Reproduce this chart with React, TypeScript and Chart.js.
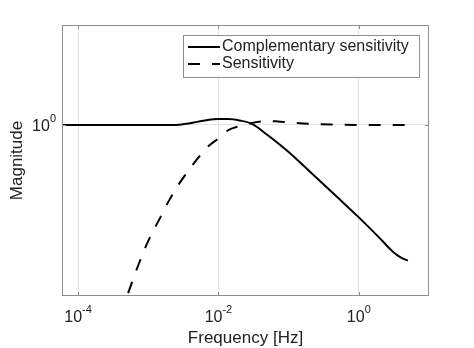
import React, { useEffect, useRef } from 'react';
import { Chart, registerables } from 'chart.js';

Chart.register(...registerables);

// ---- data ----
const complementaryFreq = [5e-5, 1e-4, 3e-4, 1e-3, 2e-3, 3e-3, 5e-3, 7e-3, 1e-2, 1.4e-2, 2e-2, 3e-2, 5e-2, 7e-2, 0.1, 0.2, 0.5, 1, 2, 3, 4, 5];
const complementaryMag = [1, 1, 1, 1, 1.0, 1.005, 1.029, 1.048, 1.058, 1.058, 1.043, 1.01, 0.91, 0.844, 0.775, 0.645, 0.505, 0.419, 0.344, 0.305, 0.287, 0.279];

const sensitivityFreq = [4e-4, 5e-4, 7e-4, 1e-3, 1.5e-3, 2e-3, 3e-3, 5e-3, 7e-3, 1e-2, 1.4e-2, 2e-2, 3e-2, 5e-2, 7e-2, 0.1, 0.2, 0.5, 1, 2, 5];
const sensitivityMag = [0.166, 0.2, 0.2615, 0.336, 0.421, 0.494, 0.596, 0.726, 0.813, 0.881, 0.954, 0.99, 1.019, 1.038, 1.033, 1.024, 1.01, 1.003, 1.0, 1.0, 1.0];

const seriesLabels = ['Complementary sensitivity', 'Sensitivity'];
const xTickExponents = [-4, -2, 0];
const yTickExponents = [0];
const xAxisTitle = 'Frequency [Hz]';
const yAxisTitle = 'Magnitude';

const FONT = '"Liberation Sans", Arial, Helvetica, sans-serif';
const TEXT = '#222222';
const BOX = '#8f8f8f';
const GRID = '#e4e4e4';

function drawPow(ctx: CanvasRenderingContext2D, exp: number, x: number, baseline: number, align: 'center' | 'right') {
  const base = '10';
  const sup = exp < 0 ? '-' + Math.abs(exp) : String(exp);
  ctx.font = `16px ${FONT}`;
  const wb = ctx.measureText(base).width;
  ctx.font = `11px ${FONT}`;
  const ws = ctx.measureText(sup).width;
  const total = wb + ws;
  const start = align === 'center' ? x - total / 2 : x - total;
  ctx.textAlign = 'left';
  ctx.textBaseline = 'alphabetic';
  ctx.fillStyle = TEXT;
  ctx.font = `16px ${FONT}`;
  ctx.fillText(base, start, baseline);
  ctx.font = `11px ${FONT}`;
  ctx.fillText(sup, start + wb, baseline - 9);
}

const decorPlugin = {
  id: 'decor',
  afterDraw(chart: any) {
    const ctx: CanvasRenderingContext2D = chart.ctx;
    const { left, right, top, bottom } = chart.chartArea;
    const xs = chart.scales.x;
    const ys = chart.scales.y;
    ctx.save();
    // box
    ctx.strokeStyle = BOX;
    ctx.lineWidth = 1;
    ctx.setLineDash([]);
    ctx.strokeRect(left + 0.5, top + 0.5, right - left - 1, bottom - top - 1);
    // tick marks
    ctx.beginPath();
    xTickExponents.forEach((e) => {
      const px = Math.round(xs.getPixelForValue(Math.pow(10, e))) + 0.5;
      ctx.moveTo(px, bottom); ctx.lineTo(px, bottom - 4);
      ctx.moveTo(px, top); ctx.lineTo(px, top + 4);
    });
    yTickExponents.forEach((e) => {
      const py = Math.round(ys.getPixelForValue(Math.pow(10, e))) + 0.5;
      ctx.moveTo(left, py); ctx.lineTo(left + 4, py);
      ctx.moveTo(right, py); ctx.lineTo(right - 4, py);
    });
    ctx.stroke();
    // tick labels
    xTickExponents.forEach((e) => {
      drawPow(ctx, e, xs.getPixelForValue(Math.pow(10, e)), bottom + 26, 'center');
    });
    yTickExponents.forEach((e) => {
      drawPow(ctx, e, left - 6, ys.getPixelForValue(Math.pow(10, e)) + 6, 'right');
    });
    // axis titles
    ctx.fillStyle = TEXT;
    ctx.font = `17px ${FONT}`;
    ctx.textAlign = 'center';
    ctx.textBaseline = 'alphabetic';
    ctx.fillText(xAxisTitle, (left + right) / 2, 343);
    ctx.save();
    ctx.translate(22, (top + bottom) / 2);
    ctx.rotate(-Math.PI / 2);
    ctx.fillText(yAxisTitle, 0, 0);
    ctx.restore();
    // legend
    const lx = 183, ly = 35, lw = 236, lh = 42;
    ctx.fillStyle = '#ffffff';
    ctx.fillRect(lx, ly, lw, lh);
    ctx.strokeStyle = BOX;
    ctx.lineWidth = 1;
    ctx.strokeRect(lx + 0.5, ly + 0.5, lw, lh);
    const ds = chart.data.datasets;
    ds.forEach((d: any, i: number) => {
      const cy = 47 + i * 17;
      ctx.strokeStyle = d.borderColor;
      ctx.lineWidth = d.borderWidth;
      ctx.setLineDash(d.borderDash || []);
      ctx.beginPath();
      ctx.moveTo(188, cy);
      ctx.lineTo(220, cy);
      ctx.stroke();
      ctx.setLineDash([]);
      ctx.fillStyle = TEXT;
      ctx.font = `16px ${FONT}`;
      ctx.textAlign = 'left';
      ctx.textBaseline = 'middle';
      ctx.fillText(d.label, 222, cy);
    });
    ctx.restore();
  },
};

export default function App() {
  const ref = useRef<HTMLCanvasElement | null>(null);
  useEffect(() => {
    document.body.style.margin = '0';
    if (!ref.current) return;
    const chart = new Chart(ref.current, {
      type: 'line',
      data: {
        datasets: [
          {
            label: seriesLabels[0],
            data: complementaryFreq.map((f, i) => ({ x: f, y: complementaryMag[i] })),
            borderColor: '#000000',
            borderWidth: 2,
            borderDash: [],
            pointRadius: 0,
            cubicInterpolationMode: 'monotone',
            fill: false,
          },
          {
            label: seriesLabels[1],
            data: sensitivityFreq.map((f, i) => ({ x: f, y: sensitivityMag[i] })),
            borderColor: '#000000',
            borderWidth: 2,
            borderDash: [12, 12],
            pointRadius: 0,
            cubicInterpolationMode: 'monotone',
            fill: false,
          },
        ],
      },
      options: {
        responsive: false,
        animation: false,
        layout: { padding: { left: 62, right: 45, top: 25, bottom: 52 } },
        plugins: { legend: { display: false }, tooltip: { enabled: false } },
        scales: {
          x: {
            type: 'logarithmic',
            min: 5.9e-5,
            max: 10,
            afterBuildTicks: (s: any) => {
              s.ticks = xTickExponents.map((e) => ({ value: Math.pow(10, e) }));
            },
            grid: { color: GRID, drawTicks: false },
            border: { display: false },
            ticks: { display: false },
          },
          y: {
            type: 'logarithmic',
            min: 0.2,
            max: 2.56,
            afterBuildTicks: (s: any) => {
              s.ticks = yTickExponents.map((e) => ({ value: Math.pow(10, e) }));
            },
            grid: { color: GRID, drawTicks: false },
            border: { display: false },
            ticks: { display: false },
          },
        },
      } as any,
      plugins: [decorPlugin],
    });
    return () => chart.destroy();
  }, []);
  return <canvas ref={ref} width={474} height={348} style={{ display: 'block' }} />;
}
